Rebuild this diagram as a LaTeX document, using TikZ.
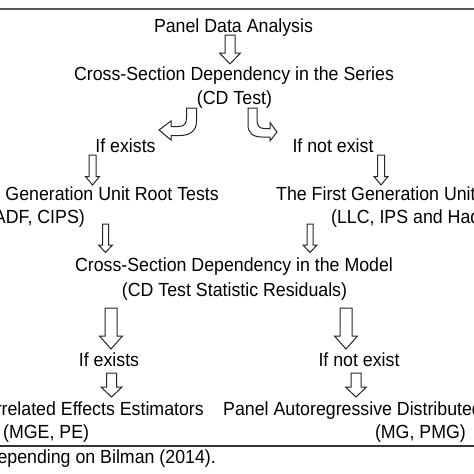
\documentclass[tikz,border=0pt]{standalone}
\usepackage{fontspec}
\setmainfont{Liberation Sans}[FakeStretch=0.935]
\newcommand{\hollowdown}[6]{%
  \draw[harrowshape] (#1-#5,#2) -- (#1+#5,#2) -- (#1+#5,#3) -- (#1+#6,#3) -- (#1,#4) -- (#1-#6,#3) -- (#1-#5,#3) -- cycle;}
\begin{document}
\begin{tikzpicture}[x=1pt,y=-1pt,
  txt/.style={inner sep=0pt, font=\fontsize{19}{22}\selectfont, text=black},
  harrowshape/.style={draw=black!85, line width=1pt, fill=white, line join=miter},
  rule/.style={line width=1.2pt}]
\useasboundingbox (0,0) rectangle (474,474);
\clip (0,0) rectangle (474,474);
\fill[white] (0,0) rectangle (474,474);
\coordinate (tl) at (0,9);
\coordinate (tr) at (474,9);
\coordinate (bl) at (0,446);
\coordinate (br) at (474,446);
\draw[rule, draw=black!65] (tl) -- (tr);
\draw[rule, draw=black!80] (bl) -- (br);

\node[txt, anchor=base] (pda) at (233.5,32.3) {Panel Data Analysis};
\node[txt, anchor=base] (cds) at (234,80) {Cross-Section Dependency in the Series};
\node[txt, anchor=base] (cdt) at (234.5,104) {(CD Test)};
\node[txt, anchor=base] (ifl) at (125.5,152) {If exists};
\node[txt, anchor=base] (ifr) at (333,152) {If not exist};
\node[txt, anchor=base east] (sg) at (219,200) {The Second Generation Unit Root Tests};
\node[txt, anchor=base east] (sgb) at (85,223) {(CADF, CIPS)};
\node[txt, anchor=base west] (fg) at (276,200) {The First Generation Unit Root Tests};
\node[txt, anchor=base west] (fgb) at (331,223) {(LLC, IPS and Hadri)};
\node[txt, anchor=base] (cdm) at (234,271.7) {Cross-Section Dependency in the Model};
\node[txt, anchor=base] (cdr) at (234.5,296.7) {(CD Test Statistic Residuals)};
\node[txt, anchor=base] (ifl2) at (109,366.7) {If exists};
\node[txt, anchor=base] (ifr2) at (359,366.7) {If not exist};
\node[txt, anchor=base east] (cce) at (204,415) {Common Correlated Effects Estimators};
\node[txt, anchor=base west] (cceb) at (3,438) {(MGE, PE)};
\node[txt, anchor=base west] (ardl) at (223,415) {Panel Autoregressive Distributed Lag};
\node[txt, anchor=base east] (ardlb) at (466,438) {(MG, PMG)};
\node[txt, anchor=base east] (src) at (216,463) {depending on Bilman (2014).};

% straight hollow arrows
\hollowdown{230}{35}{53}{64}{5}{10.5}
\hollowdown{92.5}{155}{176.5}{185}{3.5}{7}
\hollowdown{381}{155}{176.5}{185}{3.5}{7}
\hollowdown{105.5}{224}{245}{252.5}{3}{7}
\hollowdown{310}{224}{245}{252.5}{3}{7}
\hollowdown{111}{308}{336}{349}{6}{11.5}
\hollowdown{346}{308}{336}{349}{6}{11.5}
\hollowdown{111.5}{373}{387}{397}{5}{10.5}
\hollowdown{356}{373}{387}{397}{5}{10.5}

% curved hollow arrows
\draw[harrowshape] (196.5,108) -- (196.5,121) .. controls (196.5,131) and (190,135.5) .. (180,135.5)
  -- (171,135.5) -- (171,140) -- (159,130) -- (171,121) -- (171,126.5) -- (178,126.5)
  .. controls (184,126.5) and (186.5,124) .. (186.5,118) -- (186.5,108) -- cycle;
\draw[harrowshape] (248,108) -- (248,125) .. controls (248,133) and (253,137) .. (262,137)
  -- (270,137) -- (270,141) -- (277,132) -- (270,122.5) -- (270,128.5) -- (264,128.5)
  .. controls (259,128.5) and (257,125) .. (257,120) -- (257,108) -- cycle;
\end{tikzpicture}
\end{document}
